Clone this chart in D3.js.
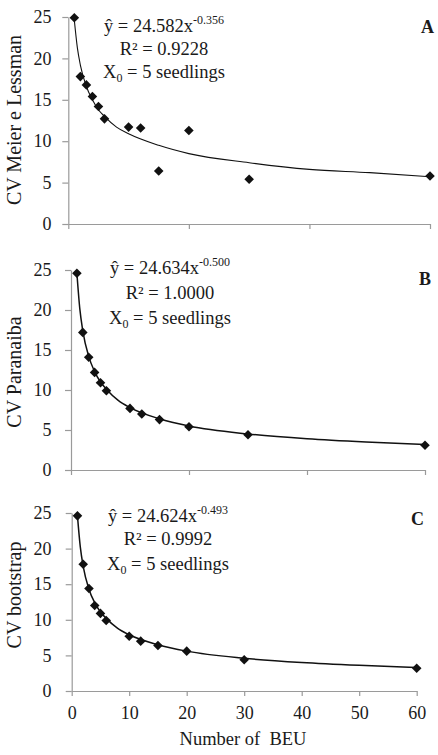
<!DOCTYPE html>
<html>
<head>
<meta charset="utf-8">
<script src="https://cdn.jsdelivr.net/npm/d3@7"></script>
<style>
  body { margin: 0; background: #fff; }
  text { font-family: "Liberation Serif", "Times New Roman", serif; fill: #1a1a1a; }
</style>
</head>
<body>
<div id="chart"></div>
<script>
// number of BEU (x values shared by all panels)
const beu = [1, 2, 3, 4, 5, 6, 10, 12, 15, 20, 30, 60];

// observed CV values
const cvMeier = [24.9, 17.8, 16.8, 15.4, 14.2, 12.7, 11.7, 11.6, 6.4, 11.3, 5.4, 5.8];
const cvParanaiba = [24.6, 17.2, 14.1, 12.2, 10.9, 9.9, 7.7, 7.0, 6.3, 5.4, 4.4, 3.1];
const cvBootstrap = [24.6, 17.8, 14.4, 12.0, 10.9, 9.9, 7.7, 7.0, 6.4, 5.6, 4.4, 3.2];

// fitted curve
const curveX = [1, 1.5, 2, 3, 4, 5, 6, 8, 10, 15, 20, 30, 40, 50, 60];
const curveMeier = [24.6, 21.3, 19.2, 16.6, 15.0, 13.8, 13.0, 11.7, 10.9, 9.5, 8.5, 7.4, 6.6, 6.2, 5.7];
const curveParanaiba = [24.6, 20.1, 17.4, 14.2, 12.3, 11.0, 10.1, 8.7, 7.8, 6.4, 5.5, 4.5, 3.9, 3.5, 3.2];
const curveBootstrap = [24.6, 20.2, 17.5, 14.3, 12.4, 11.1, 10.2, 8.8, 7.9, 6.5, 5.6, 4.6, 4.0, 3.6, 3.3];

// labels
const yTicks = [0, 5, 10, 15, 20, 25];
const panelTitles = ["CV Meier e Lessman", "CV Paranaiba", "CV bootstrap"];
const panelLetters = ["A", "B", "C"];
const eqCoef = ["24.582", "24.634", "24.624"];
const eqExp = ["-0.356", "-0.500", "-0.493"];
const r2Text = ["0.9228", "1.0000", "0.9992"];

const width = 438, height = 755;

const svg = d3.select("#chart")
  .append("svg")
  .attr("width", width)
  .attr("height", height);

//layout for each panel
const panels = [
  { x0: 68.3, x1: 430, y0: 224, y1: 17, xt: [0, 20, 40, 60], labels: false,
    obs: cvMeier, fit: curveMeier, lw: 1.1, eqX: 164, eqY: [32, 55, 78], titleY: 120, letterX: 434, letterY: 33 },
  { x0: 71, x1: 425, y0: 470, y1: 270, xt: [0, 20, 40, 60], labels: false,
    obs: cvParanaiba, fit: curveParanaiba, lw: 1.5, eqX: 170, eqY: [274, 299, 324], titleY: 372, letterX: 431, letterY: 285 },
  { x0: 71.7, x1: 416.7, y0: 691, y1: 513, xt: [0, 10, 20, 30, 40, 50, 60], labels: true,
    obs: cvBootstrap, fit: curveBootstrap, lw: 1.5, eqX: 168, eqY: [522, 545, 570], titleY: 595, letterX: 424, letterY: 525 }
];

const diamond = d3.symbol().type(d3.symbolSquare).size(46);

panels.forEach(function (p, i) {
  const x = d3.scaleLinear().domain([0, 60]).range([p.x0, p.x1]);
  const y = d3.scaleLinear().domain([0, 25]).range([p.y0, p.y1]);
  const g = svg.append("g");

  //y axis
  const yAxis = g.append("g")
    .attr("transform", `translate(${p.x0},0)`)
    .call(d3.axisLeft(y).tickValues(yTicks).tickSize(6).tickPadding(p.x0 - 51.5 - 6).tickSizeOuter(0));

  //x axis
  const xAxis = g.append("g")
    .attr("transform", `translate(0,${p.y0})`)
    .call(d3.axisBottom(x).tickValues(p.xt).tickSize(5).tickPadding(10).tickSizeOuter(0)
      .tickFormat(p.labels ? d3.format("d") : ""));

  [yAxis, xAxis].forEach(a => {
    a.select(".domain").attr("stroke", "#9a9a9a").attr("stroke-width", 1.2);
    a.selectAll(".tick line").attr("stroke", "#9a9a9a").attr("stroke-width", 1.2);
    a.selectAll(".tick text")
      .style("font-family", "'Liberation Serif', serif")
      .style("font-size", "18px")
      .attr("fill", "#1a1a1a");
  });

  //fitted curve
  const line = d3.line()
    .x((d, k) => x(curveX[k]))
    .y(d => y(d))
    .curve(d3.curveMonotoneX);

  g.append("path")
    .datum(p.fit)
    .attr("d", line)
    .attr("fill", "none")
    .attr("stroke", "#111")
    .attr("stroke-width", p.lw);

  //observed points
  g.selectAll(".pt")
    .data(p.obs)
    .join("path")
    .attr("class", "pt")
    .attr("d", diamond)
    .attr("transform", (d, k) => `translate(${x(beu[k])},${y(d)}) rotate(45)`)
    .attr("fill", "#111");

  //y title
  g.append("text")
    .attr("transform", `translate(21,${p.titleY}) rotate(-90)`)
    .attr("text-anchor", "middle")
    .style("font-size", "20px")
    .text(panelTitles[i]);

  //equation block
  const eq = g.append("text")
    .attr("x", p.eqX)
    .attr("y", p.eqY[0])
    .attr("text-anchor", "middle")
    .style("font-size", "18.5px");
  eq.append("tspan").text(`ŷ = ${eqCoef[i]}x`);
  eq.append("tspan").attr("dy", -8).style("font-size", "12px").text(eqExp[i]);

  g.append("text")
    .attr("x", p.eqX)
    .attr("y", p.eqY[1])
    .attr("text-anchor", "middle")
    .style("font-size", "18.5px")
    .text(`R² = ${r2Text[i]}`);

  const x0t = g.append("text")
    .attr("x", p.eqX)
    .attr("y", p.eqY[2])
    .attr("text-anchor", "middle")
    .style("font-size", "18.5px");
  x0t.append("tspan").text("X");
  x0t.append("tspan").attr("dy", 4).style("font-size", "12px").text("0");
  x0t.append("tspan").attr("dy", -4).text(" = 5 seedlings");

  //panel letter
  g.append("text")
    .attr("x", p.letterX)
    .attr("y", p.letterY)
    .attr("text-anchor", "end")
    .style("font-size", "18px")
    .style("font-weight", "bold")
    .text(panelLetters[i]);
});

//x title
svg.append("text")
  .attr("x", 243)
  .attr("y", 745)
  .attr("text-anchor", "middle")
  .style("font-size", "18.5px")
  .attr("xml:space", "preserve")
  .text("Number of  BEU");
</script>
</body>
</html>
